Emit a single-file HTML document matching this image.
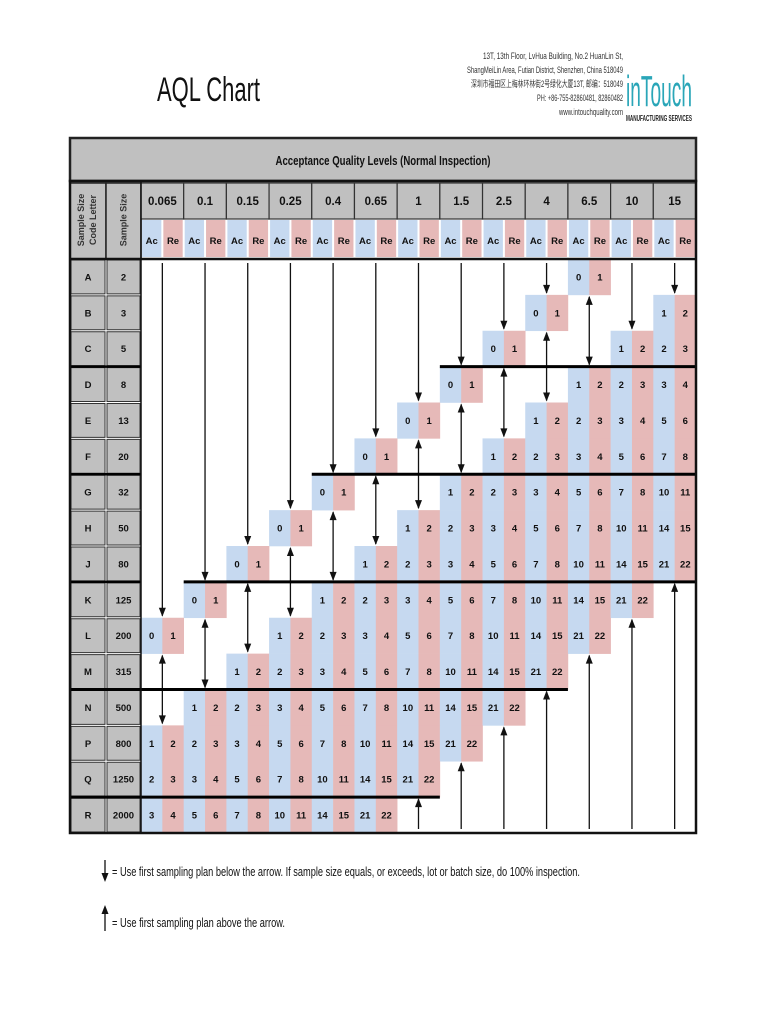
<!DOCTYPE html>
<html><head><meta charset="utf-8"><style>
html,body{margin:0;padding:0;background:#fff;}
svg{display:block;font-family:"Liberation Sans","Noto Sans CJK SC",sans-serif;}
</style></head><body>
<svg id="chart" width="768" height="1024" viewBox="0 0 768 1024" xmlns="http://www.w3.org/2000/svg">
<rect x="0" y="0" width="768" height="1024" fill="#fff"/>
<text x="157" y="101" font-size="34" textLength="103" lengthAdjust="spacingAndGlyphs" fill="#111">AQL Chart</text>
<g font-size="9" fill="#333" text-anchor="end">
<text x="623" y="59" textLength="140" lengthAdjust="spacingAndGlyphs">13T, 13th Floor, LvHua Building, No.2 HuanLin St,</text>
<text x="623" y="73" textLength="156" lengthAdjust="spacingAndGlyphs">ShangMeiLin Area, Futian District, Shenzhen, China 518049</text>
<text x="623" y="87" textLength="152" lengthAdjust="spacingAndGlyphs">深圳市福田区上梅林环林街2号绿化大厦13T, 邮编：518049</text>
<text x="623" y="101" textLength="86" lengthAdjust="spacingAndGlyphs">PH: +86-755-82860481, 82860482</text>
<text x="623" y="115" textLength="64" lengthAdjust="spacingAndGlyphs">www.intouchquality.com</text>
</g>
<text x="626" y="106" font-size="44" fill="#2aa6b8" textLength="66" lengthAdjust="spacingAndGlyphs">inTouch</text>
<text x="626" y="121" font-size="8" font-weight="bold" fill="#222" textLength="66" lengthAdjust="spacingAndGlyphs">MANUFACTURING SERVICES</text>
<g id="table"></g>
<g>
<line x1="105" y1="860" x2="105" y2="878" stroke="#111" stroke-width="1.3"/>
<path d="M101.5,873 L105,882 L108.5,873 Z" fill="#111"/>
<text x="112" y="876" font-size="13" fill="#111" textLength="468" lengthAdjust="spacingAndGlyphs">= Use first sampling plan below the arrow.  If sample size equals, or exceeds, lot or batch size, do 100% inspection.</text>
<line x1="105" y1="913" x2="105" y2="931" stroke="#111" stroke-width="1.3"/>
<path d="M101.5,914 L105,905 L108.5,914 Z" fill="#111"/>
<text x="112" y="927" font-size="13" fill="#111" textLength="173" lengthAdjust="spacingAndGlyphs">= Use first sampling plan above the arrow.</text>
</g>
</svg>
<script>
const aqlLevels = ["0.065","0.1","0.15","0.25","0.4","0.65","1","1.5","2.5","4","6.5","10","15"];
const codeLetters = ["A","B","C","D","E","F","G","H","J","K","L","M","N","P","Q","R"];
const sampleSizes = ["2","3","5","8","13","20","32","50","80","125","200","315","500","800","1250","2000"];
const acSequence = [0,1,2,3,5,7,10,14,21];
const reSequence = [1,2,3,4,6,8,11,15,22];
// Ac values per row (null = arrow/empty), columns follow aqlLevels
const N = null;
const acTable = [
[N,N,N,N,N,N,N,N,N,N,0,N,N],
[N,N,N,N,N,N,N,N,N,0,N,N,1],
[N,N,N,N,N,N,N,N,0,N,N,1,2],
[N,N,N,N,N,N,N,0,N,N,1,2,3],
[N,N,N,N,N,N,0,N,N,1,2,3,5],
[N,N,N,N,N,0,N,N,1,2,3,5,7],
[N,N,N,N,0,N,N,1,2,3,5,7,10],
[N,N,N,0,N,N,1,2,3,5,7,10,14],
[N,N,0,N,N,1,2,3,5,7,10,14,21],
[N,0,N,N,1,2,3,5,7,10,14,21,N],
[0,N,N,1,2,3,5,7,10,14,21,N,N],
[N,N,1,2,3,5,7,10,14,21,N,N,N],
[N,1,2,3,5,7,10,14,21,N,N,N,N],
[1,2,3,5,7,10,14,21,N,N,N,N,N],
[2,3,5,7,10,14,21,N,N,N,N,N,N],
[3,5,7,10,14,21,N,N,N,N,N,N,N]
];
// thick separators: [rowIndexBelow, startCol(-2 = table left), endColExclusive]
const separatorRows = [2,5,8,11,14];
const separatorStart = [7,4,1,-2,-2];
const separatorEnd = [13,13,13,10,7];

const NS="http://www.w3.org/2000/svg";
const g=document.getElementById('table');
const L=70,C1=106,C2=141,R=696,colW=(R-C2)/13,subW=colW/2;
const T0=138,T1=181,H1=219,H2=259,rowH=(833-H2)/16;
const xCol=j=>C2+j*colW;
const yRow=i=>H2+i*rowH;
function el(tag,attrs,parent){const e=document.createElementNS(NS,tag);for(const k in attrs)e.setAttribute(k,attrs[k]);(parent||g).appendChild(e);return e;}
function txt(x,y,s,size,parent,extra){const t=el('text',Object.assign({x:x,y:y,'font-size':size,'font-weight':'bold','text-anchor':'middle',fill:'#111'},extra||{}),parent);t.textContent=s;return t;}

// title row
let r=el('rect',{x:L,y:T0,width:R-L,height:T1-T0,fill:'#c0c0c0',stroke:'#222','stroke-width':2.5});


let t=txt((L+R)/2,165,"Acceptance Quality Levels  (Normal Inspection)",13,g,{textLength:215,lengthAdjust:'spacingAndGlyphs'});


// left headers
[[L,C1,"Sample Size Code Letter"],[C1,C2,"Sample Size"]].forEach((h,k)=>{
  const rc=el('rect',{x:h[0],y:T1+2,width:h[1]-h[0],height:H2-T1-2,fill:'#c0c0c0',stroke:'#222','stroke-width':1.5});
  
  
  const cx=(h[0]+h[1])/2, cy=(T1+H2)/2;
  if(k===0){
    const a=txt(0,0,"Sample Size",9,g,{transform:`translate(${cx-4},${cy}) rotate(-90)`,fill:'#333'});
    
    
    const b=txt(0,0,"Code Letter",9,g,{transform:`translate(${cx+8},${cy}) rotate(-90)`,fill:'#333'});
    
    
  } else {
    const a=txt(0,0,"Sample Size",9,g,{transform:`translate(${cx+3},${cy}) rotate(-90)`,fill:'#333'});
    
    
  }
});
// AQL header + Ac/Re
aqlLevels.forEach((lv,j)=>{
  const x=xCol(j);
  const rc=el('rect',{x:x,y:T1+2,width:colW,height:H1-T1-2,fill:'#c0c0c0',stroke:'#333','stroke-width':1.2});
  
  
  const tt=txt(x+colW/2,205,lv,11.5);
  
  
  ["Ac","Re"].forEach((s,k)=>{
    const rr=el('rect',{x:x+k*subW+1,y:H1+1,width:subW-2,height:H2-H1-3,fill:k?'#e6b9b8':'#c6d9f0'});
    
    
    const st=txt(x+k*subW+subW/2,244,s,9.5);
    
    
  });
});
el('rect',{x:C2,y:H1,width:R-C2,height:H2-H1,fill:'none',stroke:'#333','stroke-width':1});
// rows
codeLetters.forEach((c,i)=>{
  const y=yRow(i);
  [[L,C1,c,'code-letter-cell'],[C1,C2,sampleSizes[i],'sample-size-cell']].forEach(h=>{
    const rc=el('rect',{x:h[0]+1,y:y+1,width:h[1]-h[0]-2,height:rowH-2,fill:'#c0c0c0',stroke:'#333','stroke-width':1});
    
    
    const tt=txt((h[0]+h[1])/2,y+rowH/2+3.5,h[2],9.5);
    
    
  });
  acTable[i].forEach((ac,j)=>{
    if(ac===null)return;
    const k=acSequence.indexOf(ac);
    const x=xCol(j);
    const a=el('rect',{x:x,y:y,width:subW+0.3,height:rowH+0.3,fill:'#c6d9f0'});
    
    
    const b=el('rect',{x:x+subW,y:y,width:subW+0.3,height:rowH+0.3,fill:'#e6b9b8'});
    
    
    const ta=txt(x+subW/2,y+rowH/2+3.5,String(ac),9.5);
    
    
    const tb=txt(x+subW*1.5,y+rowH/2+3.5,String(reSequence[k]),9.5);
    
    
  });
});
// arrows
function arrow(x,y1,y2,up,down,name){
  const ln=el('line',{x1:x,y1:y1+(up?2:3),x2:x,y2:y2-(down?2:3),stroke:'#111','stroke-width':1.3});
  
  
  if(down)el('path',{d:`M${x-3.5},${y2-10} L${x},${y2-1} L${x+3.5},${y2-10} Z`,fill:'#111'});
  if(up)el('path',{d:`M${x-3.5},${y1+10} L${x},${y1+1} L${x+3.5},${y1+10} Z`,fill:'#111'});
}
aqlLevels.forEach((lv,j)=>{
  const filled=[];
  acTable.forEach((row,i)=>{if(row[j]!==null)filled.push(i);});
  const x=xCol(j)+colW/2;
  if(!filled.length)return;
  const first=filled[0],last=filled[filled.length-1];
  if(first>0)arrow(x,yRow(0)+1,yRow(first),false,true,'down-arrow');
  for(let k=0;k<filled.length-1;k++){
    if(filled[k+1]-filled[k]>1)arrow(x,yRow(filled[k]+1),yRow(filled[k+1]),true,true,'double-arrow');
  }
  if(last<15)arrow(x,yRow(last+1),yRow(16)-1,true,false,'up-arrow');
});
// separators
separatorRows.forEach((ri,k)=>{
  const y=yRow(ri+1);
  const x1=separatorStart[k]<0?L:xCol(separatorStart[k]);
  const x2=separatorEnd[k]>=13?R:xCol(separatorEnd[k]);
  const s=el('line',{x1:x1,y1:y,x2:x2,y2:y,stroke:'#000','stroke-width':3});
  
  
  if(separatorStart[k]>=0){el('line',{x1:L,y1:y,x2:C2,y2:y,stroke:'#000','stroke-width':2.5});}
});
// outer borders
el('line',{x1:L,y1:H2,x2:R,y2:H2,stroke:'#111','stroke-width':2.5});
el('line',{x1:C2,y1:T1,x2:C2,y2:833,stroke:'#111','stroke-width':1.5});
const ob=el('rect',{x:L,y:T1,width:R-L,height:833-T1,fill:'none',stroke:'#111','stroke-width':2.5});


</script>
</body></html>
